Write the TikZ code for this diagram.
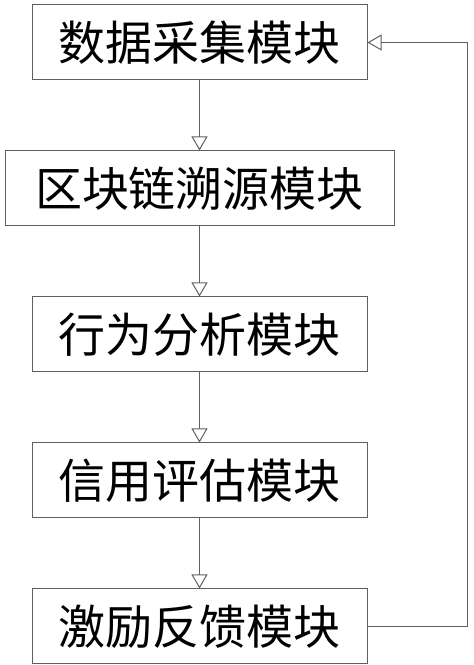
\documentclass[tikz,border=0pt]{standalone}
\usepackage{fontspec}
\setmainfont{Noto Sans CJK SC}
\usepackage{tikz}
\usetikzlibrary{arrows.meta,positioning}
\definecolor{linegray}{RGB}{95, 95, 95}
\tikzstyle{module} = [rectangle, draw=linegray, line width=1pt, fill=none, text=black, text centered, font=\fontsize{47pt}{50pt}\selectfont, minimum width=335pt, minimum height=75pt, inner sep=0pt]
\tikzstyle{widemodule} = [module, minimum width=389pt]
\tikzstyle{tedge}  = [draw, linegray, line width=1pt, -{Triangle[open, width=16pt, length=14pt]}]
\begin{document}
\begin{tikzpicture}[auto]
\useasboundingbox (0,0) rectangle (474pt,665pt);

% module chain =============================
\node[module] (collect) at (199.5pt,622.5pt) {数据采集模块};
\node[widemodule, below=70pt of collect] (trace) {区块链溯源模块};
\node[module, below=70pt of trace] (behavior) {行为分析模块};
\node[module, below=70pt of behavior] (credit) {信用评估模块};
\node[module, below=70pt of credit] (incentive) {激励反馈模块};

% edges
\path[tedge] (collect) -- (trace);
\path[tedge] (trace) -- (behavior);
\path[tedge] (behavior) -- (credit);
\path[tedge] (credit) -- (incentive);

% % feedback edge
\path[tedge] (incentive.east) -- ++(100pt,0) |- (collect.east);

\end{tikzpicture}
\end{document}
